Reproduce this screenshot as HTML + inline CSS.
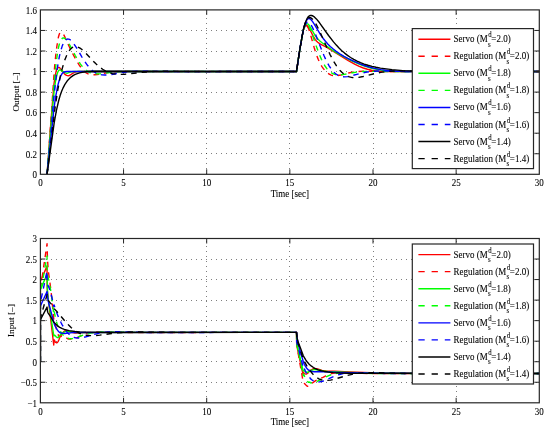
<!DOCTYPE html><html><head><meta charset="utf-8"><style>html,body{margin:0;padding:0;background:#fff;}svg{display:block;}text{font-family:"Liberation Serif",serif;fill:#000;stroke:#000;stroke-width:0.08px;}</style></head><body>
<svg width="550" height="433" viewBox="0 0 550 433">
<g>
<rect width="550" height="433" fill="#fff"/>
<defs><clipPath id="c0"><rect x="40.40" y="9.90" width="498.90" height="164.40"/></clipPath></defs>
<path d="M123.50 174.00V9.90M206.50 174.00V9.90M289.50 174.00V9.90M373.50 174.00V9.90M456.50 174.00V9.90M41.00 153.50H539.30M41.00 133.50H539.30M41.00 112.50H539.30M41.00 92.50H539.30M41.00 71.50H539.30M41.00 51.50H539.30M41.00 30.50H539.30" stroke="#000" stroke-width="1" stroke-dasharray="1 4" fill="none" opacity="0.5"/>
<g clip-path="url(#c0)">
<polyline points="47.05,174.30 50.41,128.49 53.80,85.38 54.97,77.02 56.20,70.85 56.63,69.47 57.10,68.55 57.70,67.92 58.56,67.41 59.16,67.48 59.76,67.92 63.91,73.15 65.34,74.65 66.58,75.42 68.21,75.73 69.04,75.61 69.90,75.25 73.03,73.11 74.69,72.26 76.42,71.74 78.38,71.55 296.50,71.56 299.76,49.86 303.19,30.58 303.92,28.49 304.82,26.78 305.68,25.82 306.58,25.50 307.11,25.62 307.64,25.97 308.71,27.29 313.07,35.93 315.13,39.41 316.42,40.99 317.76,42.26 318.92,43.17 320.42,44.07 327.30,47.59 348.35,60.57 355.11,64.38 359.26,66.36 363.35,67.99 367.45,69.28 371.64,70.27 374.83,70.81 378.16,71.20 385.44,71.55 539.30,71.55" fill="none" stroke="#ff0000" stroke-width="1.4" stroke-linejoin="round"/>
<polyline points="47.05,174.30 50.34,129.49 53.94,74.98 54.90,63.34 56.33,50.13 57.76,40.39 58.46,36.95 59.16,34.44 59.82,32.94 60.16,32.54 60.49,32.36 61.39,32.48 62.25,32.93 63.02,33.70 63.82,34.90 64.85,36.92 67.11,42.11 70.27,48.85 72.36,53.07 76.95,61.42 79.08,64.84 80.94,67.53 83.60,70.62 84.94,71.84 86.27,72.82 87.63,73.59 89.06,74.18 90.52,74.57 92.09,74.79 94.48,74.82 97.21,74.55 107.68,72.57 112.54,71.86 117.13,71.45 122.15,71.26 153.12,71.58 296.50,71.55 299.76,49.86 303.22,30.41 303.75,28.39 304.42,26.89 305.18,25.93 306.01,25.59 306.75,25.84 307.48,26.58 308.21,27.81 308.94,29.53 309.77,32.06 314.23,47.76 316.03,53.60 318.19,59.28 320.48,64.15 321.78,66.37 323.21,68.43 324.81,70.41 326.34,71.98 327.97,73.31 329.66,74.39 331.23,75.09 332.92,75.56 335.18,75.79 337.68,75.61 340.70,75.01 348.62,72.94 352.55,72.15 357.80,71.47 363.62,71.17 394.39,71.58 539.30,71.55" fill="none" stroke="#ff0000" stroke-width="1.4" stroke-dasharray="5.5 5" stroke-linejoin="round"/>
<polyline points="47.05,174.30 51.04,125.53 54.14,90.57 55.43,81.80 56.86,75.06 57.56,72.74 58.19,71.22 58.83,70.34 59.59,69.94 60.26,69.98 62.02,70.82 65.31,72.87 66.64,73.19 67.97,72.95 71.46,71.79 73.56,71.55 296.50,71.55 299.83,49.45 303.29,30.10 304.02,27.68 305.05,25.51 306.08,24.26 306.61,23.94 307.15,23.83 307.64,23.92 308.14,24.18 309.17,25.26 315.19,35.54 316.56,37.44 318.59,39.72 320.18,41.22 322.08,42.74 333.59,50.98 337.98,53.68 344.16,56.98 351.15,60.53 356.84,63.15 361.56,65.06 366.18,66.67 370.84,68.02 375.56,69.12 381.25,70.11 387.27,70.83 393.82,71.29 401.24,71.52 539.30,71.55" fill="none" stroke="#00ff00" stroke-width="1.4" stroke-linejoin="round"/>
<polyline points="47.05,174.30 50.31,133.23 53.77,85.87 55.87,65.25 57.53,52.95 58.36,48.27 59.16,44.77 59.96,42.27 61.22,39.70 62.15,38.47 63.12,37.93 64.01,37.99 64.98,38.54 66.11,39.64 67.54,41.40 69.90,45.36 75.26,55.51 77.85,60.11 80.45,64.12 83.11,67.47 85.90,70.14 87.36,71.20 88.83,72.05 90.36,72.74 91.95,73.26 93.62,73.61 95.41,73.82 97.87,73.87 100.77,73.69 111.48,72.33 116.70,71.82 121.55,71.54 127.01,71.40 160.10,71.56 296.50,71.55 299.76,49.86 303.19,30.57 304.02,28.08 304.98,26.10 305.91,24.97 306.38,24.69 306.85,24.60 307.71,24.92 308.58,25.88 309.34,27.24 310.57,30.05 312.23,34.34 316.03,45.51 318.99,53.58 321.45,59.37 323.97,64.30 325.34,66.51 326.70,68.42 328.10,70.08 329.50,71.45 330.96,72.59 332.49,73.51 334.09,74.19 335.75,74.64 338.28,74.93 341.20,74.81 344.06,74.41 352.45,72.81 357.20,72.08 362.72,71.56 368.91,71.33 401.77,71.56 539.30,71.55" fill="none" stroke="#00ff00" stroke-width="1.4" stroke-dasharray="5.5 5" stroke-linejoin="round"/>
<polyline points="47.05,174.30 53.77,110.71 54.64,103.69 55.67,96.73 57.56,86.69 58.46,83.04 59.66,78.98 60.56,76.49 61.52,74.51 62.48,73.15 63.55,72.26 64.98,71.73 66.97,71.55 296.50,71.55 299.99,48.44 301.92,37.30 303.59,28.69 304.68,24.68 305.95,21.50 306.58,20.38 307.24,19.50 307.91,18.92 308.61,18.62 309.41,18.65 310.24,19.08 311.27,20.01 312.43,21.42 314.23,24.12 320.65,34.81 323.01,38.21 325.44,41.30 327.77,43.92 330.26,46.41 332.95,48.82 335.85,51.13 339.81,53.92 343.96,56.45 347.72,58.43 354.11,61.43 359.33,63.64 364.32,65.49 369.24,67.04 374.23,68.32 380.85,69.61 387.93,70.54 395.72,71.15 404.73,71.47 539.30,71.55" fill="none" stroke="#0000ff" stroke-width="1.4" stroke-linejoin="round"/>
<polyline points="47.05,174.30 50.28,139.30 53.84,97.67 55.73,80.47 57.53,67.02 58.56,60.69 59.59,55.47 61.02,49.87 62.12,46.35 63.32,43.42 64.58,41.26 65.91,39.83 66.68,39.34 67.41,39.05 68.70,39.09 70.10,39.73 71.60,40.96 73.16,42.75 76.09,47.08 81.97,57.08 84.64,61.33 87.46,65.29 90.16,68.43 92.92,70.96 95.71,72.83 98.64,74.12 101.80,74.86 104.76,75.07 108.12,74.90 111.51,74.44 120.92,72.75 126.08,72.00 132.00,71.45 138.42,71.20 174.67,71.59 296.50,71.55 299.76,49.86 303.22,30.42 304.38,26.76 305.62,24.08 306.21,23.19 306.81,22.57 307.41,22.20 308.04,22.10 308.58,22.24 309.14,22.61 310.47,24.15 311.64,25.90 312.93,28.36 315.63,34.60 321.18,48.85 323.84,55.32 326.60,61.26 329.26,66.10 332.12,70.21 333.59,71.88 335.05,73.28 336.55,74.44 338.11,75.37 339.71,76.06 341.37,76.54 344.33,76.85 347.69,76.59 351.08,75.91 360.53,73.36 365.68,72.22 371.60,71.39 378.02,71.02 384.57,71.00 402.34,71.47 414.31,71.61 539.30,71.55" fill="none" stroke="#0000ff" stroke-width="1.4" stroke-dasharray="5.5 5" stroke-linejoin="round"/>
<polyline points="47.05,174.30 54.17,122.87 56.43,110.38 58.76,100.27 60.12,95.59 61.65,91.30 63.25,87.56 64.91,84.40 66.78,81.57 68.77,79.16 70.97,77.11 73.36,75.43 75.26,74.42 77.35,73.55 79.61,72.84 82.07,72.28 87.86,71.53 95.51,71.20 161.50,71.51 296.50,71.55 298.30,59.16 300.13,47.64 302.19,35.85 303.72,28.17 305.25,22.90 306.88,18.96 307.71,17.55 308.54,16.51 309.37,15.85 310.24,15.52 311.60,15.49 313.03,16.02 314.60,17.14 316.36,18.88 319.55,22.81 328.56,35.47 333.52,41.88 336.28,45.09 339.01,47.99 341.77,50.66 344.56,53.09 347.52,55.39 350.58,57.48 353.78,59.40 357.07,61.12 360.53,62.67 364.15,64.05 367.98,65.29 372.00,66.37 376.06,67.28 380.42,68.07 391.99,69.67 402.93,70.64 415.21,71.23 425.48,71.45 438.72,71.54 539.30,71.55" fill="none" stroke="#000000" stroke-width="1.4" stroke-linejoin="round"/>
<polyline points="47.05,174.30 50.05,150.42 55.03,108.03 57.60,90.87 60.09,77.45 61.72,70.48 63.42,64.30 65.08,59.27 66.81,55.06 68.60,51.66 70.43,49.15 71.40,48.19 72.36,47.46 73.36,46.94 74.36,46.63 75.99,46.54 77.75,46.95 79.61,47.87 81.64,49.30 85.30,52.68 92.65,60.54 95.94,63.84 99.37,66.87 102.63,69.27 105.82,71.14 109.08,72.57 112.47,73.58 116.07,74.19 119.99,74.42 124.45,74.28 128.81,73.89 140.18,72.53 146.27,71.93 153.22,71.48 160.67,71.25 169.48,71.24 204.57,71.58 296.50,71.55 298.30,59.16 300.16,47.44 302.22,35.67 303.75,27.99 305.08,23.53 306.58,20.18 307.34,19.01 308.14,18.16 308.91,17.69 309.71,17.56 310.40,17.72 311.24,18.13 312.87,19.53 314.56,21.71 316.42,24.80 319.92,31.81 327.00,47.94 330.09,54.59 333.39,60.89 336.51,65.94 338.18,68.24 339.84,70.25 341.54,72.02 343.23,73.52 344.96,74.78 346.76,75.81 348.59,76.60 350.52,77.18 352.41,77.52 354.41,77.67 356.54,77.62 358.83,77.38 363.19,76.55 374.60,73.64 380.75,72.34 387.73,71.38 395.25,70.91 403.93,70.88 425.45,71.45 439.22,71.62 539.30,71.55" fill="none" stroke="#000000" stroke-width="1.4" stroke-dasharray="5.5 5" stroke-linejoin="round"/>
</g>
<path d="M123.55 174.30v-5M123.55 9.90v5M206.70 174.30v-5M206.70 9.90v5M289.85 174.30v-5M289.85 9.90v5M373.00 174.30v-5M373.00 9.90v5M456.15 174.30v-5M456.15 9.90v5M40.40 153.75h5M539.30 153.75h-5M40.40 133.20h5M539.30 133.20h-5M40.40 112.65h5M539.30 112.65h-5M40.40 92.10h5M539.30 92.10h-5M40.40 71.55h5M539.30 71.55h-5M40.40 51.00h5M539.30 51.00h-5M40.40 30.45h5M539.30 30.45h-5" stroke="#262626" stroke-width="1" fill="none"/>
<rect x="40.40" y="9.90" width="498.90" height="164.40" fill="none" stroke="#262626" stroke-width="1.2"/>
<text transform="translate(40.40 186.20) scale(1 1.08)" font-size="9" text-anchor="middle">0</text>
<text transform="translate(123.55 186.20) scale(1 1.08)" font-size="9" text-anchor="middle">5</text>
<text transform="translate(206.70 186.20) scale(1 1.08)" font-size="9" text-anchor="middle">10</text>
<text transform="translate(289.85 186.20) scale(1 1.08)" font-size="9" text-anchor="middle">15</text>
<text transform="translate(373.00 186.20) scale(1 1.08)" font-size="9" text-anchor="middle">20</text>
<text transform="translate(456.15 186.20) scale(1 1.08)" font-size="9" text-anchor="middle">25</text>
<text transform="translate(539.30 186.20) scale(1 1.08)" font-size="9" text-anchor="middle">30</text>
<text transform="translate(37.10 178.10) scale(1 1.08)" font-size="9" text-anchor="end">0</text>
<text transform="translate(37.10 157.55) scale(1 1.08)" font-size="9" text-anchor="end">0.2</text>
<text transform="translate(37.10 137.00) scale(1 1.08)" font-size="9" text-anchor="end">0.4</text>
<text transform="translate(37.10 116.45) scale(1 1.08)" font-size="9" text-anchor="end">0.6</text>
<text transform="translate(37.10 95.90) scale(1 1.08)" font-size="9" text-anchor="end">0.8</text>
<text transform="translate(37.10 75.35) scale(1 1.08)" font-size="9" text-anchor="end">1</text>
<text transform="translate(37.10 54.80) scale(1 1.08)" font-size="9" text-anchor="end">1.2</text>
<text transform="translate(37.10 34.25) scale(1 1.08)" font-size="9" text-anchor="end">1.4</text>
<text transform="translate(37.10 13.70) scale(1 1.08)" font-size="9" text-anchor="end">1.6</text>
<text transform="translate(289.85 196.80) scale(1 1.08)" font-size="9" text-anchor="middle">Time [sec]</text>
<text transform="translate(19.20 92.10) rotate(-90) scale(1.035 1)" font-size="9" text-anchor="middle">Output [&#8211;]</text>
<rect x="412.30" y="28.60" width="121.20" height="140.00" fill="#fff" stroke="#262626" stroke-width="1.2"/>
<line x1="418.4" y1="39.20" x2="450.4" y2="39.20" stroke="#ff0000" stroke-width="1.4"/>
<text transform="translate(453.6 42.20) scale(1 1.08)" font-size="9">Servo (M<tspan dx="0.4" dy="-4.6" font-size="6.8">d</tspan><tspan dx="-3.5" dy="8.6" font-size="6.8">s</tspan><tspan dx="0.6" dy="-4">=2.0)</tspan></text>
<line x1="418.4" y1="56.26" x2="450.4" y2="56.26" stroke="#ff0000" stroke-width="1.4" stroke-dasharray="6.3 6.9"/>
<text transform="translate(453.6 59.26) scale(1 1.08)" font-size="9">Regulation (M<tspan dx="0.4" dy="-4.6" font-size="6.8">d</tspan><tspan dx="-3.5" dy="8.6" font-size="6.8">s</tspan><tspan dx="0.6" dy="-4">=2.0)</tspan></text>
<line x1="418.4" y1="73.32" x2="450.4" y2="73.32" stroke="#00ff00" stroke-width="1.4"/>
<text transform="translate(453.6 76.32) scale(1 1.08)" font-size="9">Servo (M<tspan dx="0.4" dy="-4.6" font-size="6.8">d</tspan><tspan dx="-3.5" dy="8.6" font-size="6.8">s</tspan><tspan dx="0.6" dy="-4">=1.8)</tspan></text>
<line x1="418.4" y1="90.38" x2="450.4" y2="90.38" stroke="#00ff00" stroke-width="1.4" stroke-dasharray="6.3 6.9"/>
<text transform="translate(453.6 93.38) scale(1 1.08)" font-size="9">Regulation (M<tspan dx="0.4" dy="-4.6" font-size="6.8">d</tspan><tspan dx="-3.5" dy="8.6" font-size="6.8">s</tspan><tspan dx="0.6" dy="-4">=1.8)</tspan></text>
<line x1="418.4" y1="107.44" x2="450.4" y2="107.44" stroke="#0000ff" stroke-width="1.4"/>
<text transform="translate(453.6 110.44) scale(1 1.08)" font-size="9">Servo (M<tspan dx="0.4" dy="-4.6" font-size="6.8">d</tspan><tspan dx="-3.5" dy="8.6" font-size="6.8">s</tspan><tspan dx="0.6" dy="-4">=1.6)</tspan></text>
<line x1="418.4" y1="124.50" x2="450.4" y2="124.50" stroke="#0000ff" stroke-width="1.4" stroke-dasharray="6.3 6.9"/>
<text transform="translate(453.6 127.50) scale(1 1.08)" font-size="9">Regulation (M<tspan dx="0.4" dy="-4.6" font-size="6.8">d</tspan><tspan dx="-3.5" dy="8.6" font-size="6.8">s</tspan><tspan dx="0.6" dy="-4">=1.6)</tspan></text>
<line x1="418.4" y1="141.56" x2="450.4" y2="141.56" stroke="#000000" stroke-width="1.4"/>
<text transform="translate(453.6 144.56) scale(1 1.08)" font-size="9">Servo (M<tspan dx="0.4" dy="-4.6" font-size="6.8">d</tspan><tspan dx="-3.5" dy="8.6" font-size="6.8">s</tspan><tspan dx="0.6" dy="-4">=1.4)</tspan></text>
<line x1="418.4" y1="158.62" x2="450.4" y2="158.62" stroke="#000000" stroke-width="1.4" stroke-dasharray="6.3 6.9"/>
<text transform="translate(453.6 161.62) scale(1 1.08)" font-size="9">Regulation (M<tspan dx="0.4" dy="-4.6" font-size="6.8">d</tspan><tspan dx="-3.5" dy="8.6" font-size="6.8">s</tspan><tspan dx="0.6" dy="-4">=1.4)</tspan></text>
<defs><clipPath id="c1"><rect x="40.40" y="238.50" width="498.90" height="164.30"/></clipPath></defs>
<path d="M123.50 402.00V238.50M206.50 402.00V238.50M289.50 402.00V238.50M373.50 402.00V238.50M456.50 402.00V238.50M41.00 382.50H539.30M41.00 361.50H539.30M41.00 341.50H539.30M41.00 320.50H539.30M41.00 300.50H539.30M41.00 279.50H539.30M41.00 259.50H539.30" stroke="#000" stroke-width="1" stroke-dasharray="1 4" fill="none" opacity="0.5"/>
<g clip-path="url(#c1)">
<polyline points="40.40,361.73 40.40,281.24 47.05,266.15 47.15,284.63 47.35,291.37 53.74,344.96 54.04,339.83 54.20,339.92 55.10,341.68 55.77,342.47 56.53,342.79 57.30,342.49 58.06,341.58 58.86,339.97 59.62,337.80 60.42,334.89 60.69,335.74 60.85,335.76 62.55,333.14 63.65,331.74 64.71,330.81 65.71,330.47 66.44,330.60 67.14,331.07 67.57,330.72 68.47,330.90 72.70,332.60 73.86,332.72 74.99,333.04 76.65,333.16 83.84,332.65 87.40,332.52 296.50,332.39 296.60,341.92 296.83,345.75 299.73,359.57 303.19,375.19 303.49,372.57 304.52,373.50 305.15,373.90 305.88,374.08 306.65,373.95 307.44,373.50 308.24,372.71 309.04,371.61 309.87,370.12 310.14,370.58 310.30,370.60 312.83,368.97 313.83,368.60 314.76,368.47 315.69,368.59 316.59,368.99 316.99,368.86 317.66,369.00 322.08,370.37 326.10,370.98 334.42,371.23 349.65,372.00 370.71,372.63 395.62,373.03 427.51,373.28 539.30,373.45" fill="none" stroke="#ff0000" stroke-width="1.4" stroke-linejoin="round"/>
<polyline points="40.40,361.73 40.40,289.08 47.05,243.77 47.48,258.60 48.08,268.26 48.58,272.84 50.24,284.91 51.34,294.04 53.94,320.87 54.20,321.93 55.30,324.71 57.50,332.90 58.59,335.68 59.13,336.45 59.66,336.81 60.12,336.74 60.76,336.22 61.09,336.23 62.45,337.52 63.28,337.94 66.31,338.02 66.94,338.25 67.97,338.90 68.60,339.07 72.43,339.18 73.49,339.10 77.29,337.64 81.74,335.35 84.70,334.05 86.76,333.33 89.53,332.62 91.89,332.21 95.11,331.86 98.47,331.70 104.09,331.74 119.19,332.33 128.61,332.45 296.50,332.39 297.00,343.27 297.73,350.83 303.22,382.28 303.59,383.18 304.68,383.71 306.71,385.88 307.71,386.31 308.34,386.21 308.94,385.83 310.54,383.83 312.40,382.99 315.63,380.58 317.79,379.80 319.78,378.74 322.91,377.40 325.80,375.92 329.56,374.30 331.72,373.60 334.88,372.91 338.28,372.59 343.86,372.58 359.33,373.34 369.97,373.54 539.30,373.46" fill="none" stroke="#ff0000" stroke-width="1.4" stroke-dasharray="5.5 5" stroke-linejoin="round"/>
<polyline points="40.40,361.73 40.40,289.68 47.05,274.34 47.38,288.69 47.95,297.13 53.74,335.54 53.90,335.90 54.37,335.18 54.74,335.11 56.36,337.00 57.36,337.56 58.16,337.48 58.96,336.91 59.66,336.02 60.79,334.09 61.92,333.68 64.75,331.74 65.58,331.41 66.34,331.29 67.67,331.52 69.57,331.59 73.46,332.38 77.68,332.66 89.16,332.43 296.50,332.39 296.87,341.46 297.43,346.50 298.86,353.05 303.19,370.91 303.35,371.12 303.82,370.75 304.19,370.74 305.75,371.89 306.78,372.29 307.58,372.28 308.38,372.00 310.24,370.51 311.37,370.38 313.90,369.64 315.23,369.50 318.79,370.04 322.88,370.89 327.57,371.40 349.02,372.35 370.61,372.90 393.69,373.19 423.99,373.35 539.30,373.46" fill="none" stroke="#00ff00" stroke-width="1.4" stroke-linejoin="round"/>
<polyline points="40.40,361.73 40.40,293.29 47.05,255.84 47.15,269.62 47.32,274.09 49.11,281.73 50.61,289.99 52.17,300.81 53.74,313.91 53.90,311.55 53.97,311.23 54.07,311.30 55.67,318.43 56.80,322.86 57.93,326.45 58.99,328.88 59.72,329.94 60.42,330.42 60.89,332.25 62.42,334.40 63.91,335.83 67.17,338.20 67.57,338.12 69.10,338.47 70.53,338.63 72.76,338.51 76.02,337.69 84.20,334.74 89.09,333.35 91.89,332.79 94.68,332.39 100.97,331.97 106.39,331.95 122.25,332.31 133.89,332.41 296.50,332.39 296.60,340.96 296.80,344.30 300.06,359.51 303.19,375.45 303.35,374.02 303.42,373.83 303.52,373.86 305.58,378.79 306.51,380.39 307.44,381.52 308.08,382.01 308.68,382.25 309.27,382.27 309.87,382.07 310.24,382.76 310.97,382.93 312.73,382.79 316.59,381.74 317.12,381.35 326.10,376.80 328.73,375.63 331.39,374.67 333.95,373.96 336.75,373.40 339.44,373.07 342.37,372.87 347.96,372.83 363.99,373.36 375.66,373.50 539.30,373.46" fill="none" stroke="#00ff00" stroke-width="1.4" stroke-dasharray="5.5 5" stroke-linejoin="round"/>
<polyline points="40.40,361.73 40.40,305.96 47.05,291.43 47.65,297.44 48.52,302.36 54.24,323.92 55.07,325.86 56.27,328.18 57.33,329.94 58.33,331.26 59.19,332.13 60.06,332.71 62.42,333.39 64.61,333.49 72.53,332.66 79.68,332.44 296.50,332.39 297.20,338.38 298.20,343.49 300.36,351.61 303.62,362.74 304.45,364.52 305.62,366.57 306.71,368.18 307.74,369.39 308.68,370.21 309.57,370.75 312.23,371.50 314.36,371.68 323.34,371.66 337.84,372.38 349.32,372.76 378.92,373.23 426.88,373.42 539.30,373.46" fill="none" stroke="#0000ff" stroke-width="1.4" stroke-linejoin="round"/>
<polyline points="40.40,361.73 40.40,302.56 47.05,271.18 47.15,280.85 47.32,284.01 49.11,287.86 50.61,292.35 52.17,298.58 53.74,306.40 53.90,305.07 54.00,304.87 54.10,304.99 56.70,312.71 58.56,317.42 59.52,319.38 60.42,320.83 60.85,322.22 62.05,324.58 63.58,327.22 65.28,329.81 67.17,332.43 70.23,335.29 72.70,336.83 74.33,337.47 75.56,337.80 78.38,338.07 81.64,337.79 85.03,337.05 94.48,334.31 99.67,333.10 105.66,332.21 112.21,331.81 118.53,331.80 136.39,332.31 148.63,332.45 296.50,332.39 296.60,339.40 296.80,342.23 300.09,354.59 303.19,367.38 303.35,366.54 303.42,366.45 303.52,366.54 305.35,371.03 306.88,374.10 308.18,376.08 309.04,377.06 309.87,377.72 310.40,378.64 311.70,379.78 313.13,380.70 314.70,381.40 316.62,381.99 319.62,381.90 322.54,381.23 325.70,380.05 334.75,376.09 337.61,375.04 340.37,374.21 343.03,373.58 345.79,373.11 351.68,372.59 358.07,372.58 375.99,373.34 388.27,373.55 424.49,373.45 539.30,373.46" fill="none" stroke="#0000ff" stroke-width="1.4" stroke-dasharray="5.5 5" stroke-linejoin="round"/>
<polyline points="40.40,361.73 40.40,319.78 47.05,307.06 47.48,311.04 47.78,312.23 48.18,313.14 51.24,317.73 53.84,322.32 57.26,325.56 58.56,326.59 59.82,327.38 62.32,328.60 64.31,329.36 69.07,330.60 75.06,331.47 79.91,331.85 85.87,332.11 103.93,332.35 296.50,332.39 296.83,336.30 297.33,339.12 298.10,341.63 300.26,347.56 303.32,355.81 305.91,360.06 307.51,362.32 309.17,364.17 311.50,366.19 313.46,367.54 315.73,368.76 318.19,369.80 321.11,370.73 324.21,371.44 327.77,372.02 333.25,372.59 340.04,372.97 348.82,373.21 361.06,373.35 539.30,373.46" fill="none" stroke="#000000" stroke-width="1.4" stroke-linejoin="round"/>
<polyline points="40.40,361.73 40.40,318.17 47.05,294.68 47.72,298.75 48.15,300.08 48.71,301.12 51.68,304.45 54.17,308.73 56.36,310.91 64.91,320.97 68.87,325.32 71.07,327.45 73.26,329.32 75.32,330.84 77.48,332.18 79.68,333.29 81.91,334.17 84.24,334.85 86.63,335.32 90.72,335.67 95.41,335.54 99.87,335.09 111.51,333.50 117.76,332.79 124.88,332.28 132.60,332.04 140.88,332.03 176.53,332.42 296.50,332.39 297.37,339.49 297.97,342.36 298.76,345.24 303.39,359.39 304.09,360.89 306.68,365.61 308.28,368.29 309.71,370.32 312.57,373.78 314.73,375.93 316.92,377.64 318.92,378.84 321.11,379.73 323.41,380.28 326.74,380.48 330.46,380.08 334.48,379.18 345.86,375.84 352.05,374.35 355.57,373.72 359.13,373.25 366.78,372.72 375.20,372.69 396.95,373.35 411.22,373.54 539.30,373.46" fill="none" stroke="#000000" stroke-width="1.4" stroke-dasharray="5.5 5" stroke-linejoin="round"/>
</g>
<path d="M123.55 402.80v-5M123.55 238.50v5M206.70 402.80v-5M206.70 238.50v5M289.85 402.80v-5M289.85 238.50v5M373.00 402.80v-5M373.00 238.50v5M456.15 402.80v-5M456.15 238.50v5M40.40 382.26h5M539.30 382.26h-5M40.40 361.73h5M539.30 361.73h-5M40.40 341.19h5M539.30 341.19h-5M40.40 320.65h5M539.30 320.65h-5M40.40 300.11h5M539.30 300.11h-5M40.40 279.57h5M539.30 279.57h-5M40.40 259.04h5M539.30 259.04h-5" stroke="#262626" stroke-width="1" fill="none"/>
<rect x="40.40" y="238.50" width="498.90" height="164.30" fill="none" stroke="#262626" stroke-width="1.2"/>
<text transform="translate(40.40 414.70) scale(1 1.08)" font-size="9" text-anchor="middle">0</text>
<text transform="translate(123.55 414.70) scale(1 1.08)" font-size="9" text-anchor="middle">5</text>
<text transform="translate(206.70 414.70) scale(1 1.08)" font-size="9" text-anchor="middle">10</text>
<text transform="translate(289.85 414.70) scale(1 1.08)" font-size="9" text-anchor="middle">15</text>
<text transform="translate(373.00 414.70) scale(1 1.08)" font-size="9" text-anchor="middle">20</text>
<text transform="translate(456.15 414.70) scale(1 1.08)" font-size="9" text-anchor="middle">25</text>
<text transform="translate(539.30 414.70) scale(1 1.08)" font-size="9" text-anchor="middle">30</text>
<text transform="translate(37.10 406.60) scale(1 1.08)" font-size="9" text-anchor="end">&#8722;1</text>
<text transform="translate(37.10 386.06) scale(1 1.08)" font-size="9" text-anchor="end">&#8722;0.5</text>
<text transform="translate(37.10 365.53) scale(1 1.08)" font-size="9" text-anchor="end">0</text>
<text transform="translate(37.10 344.99) scale(1 1.08)" font-size="9" text-anchor="end">0.5</text>
<text transform="translate(37.10 324.45) scale(1 1.08)" font-size="9" text-anchor="end">1</text>
<text transform="translate(37.10 303.91) scale(1 1.08)" font-size="9" text-anchor="end">1.5</text>
<text transform="translate(37.10 283.38) scale(1 1.08)" font-size="9" text-anchor="end">2</text>
<text transform="translate(37.10 262.84) scale(1 1.08)" font-size="9" text-anchor="end">2.5</text>
<text transform="translate(37.10 242.30) scale(1 1.08)" font-size="9" text-anchor="end">3</text>
<text transform="translate(289.85 425.30) scale(1 1.08)" font-size="9" text-anchor="middle">Time [sec]</text>
<text transform="translate(13.60 320.65) rotate(-90) scale(1.035 1)" font-size="9" text-anchor="middle">Input [&#8211;]</text>
<rect x="412.30" y="244.00" width="121.20" height="140.00" fill="#fff" stroke="#262626" stroke-width="1.2"/>
<line x1="418.4" y1="254.60" x2="450.4" y2="254.60" stroke="#ff0000" stroke-width="1.4"/>
<text transform="translate(453.6 257.60) scale(1 1.08)" font-size="9">Servo (M<tspan dx="0.4" dy="-4.6" font-size="6.8">d</tspan><tspan dx="-3.5" dy="8.6" font-size="6.8">s</tspan><tspan dx="0.6" dy="-4">=2.0)</tspan></text>
<line x1="418.4" y1="271.66" x2="450.4" y2="271.66" stroke="#ff0000" stroke-width="1.4" stroke-dasharray="6.3 6.9"/>
<text transform="translate(453.6 274.66) scale(1 1.08)" font-size="9">Regulation (M<tspan dx="0.4" dy="-4.6" font-size="6.8">d</tspan><tspan dx="-3.5" dy="8.6" font-size="6.8">s</tspan><tspan dx="0.6" dy="-4">=2.0)</tspan></text>
<line x1="418.4" y1="288.72" x2="450.4" y2="288.72" stroke="#00ff00" stroke-width="1.4"/>
<text transform="translate(453.6 291.72) scale(1 1.08)" font-size="9">Servo (M<tspan dx="0.4" dy="-4.6" font-size="6.8">d</tspan><tspan dx="-3.5" dy="8.6" font-size="6.8">s</tspan><tspan dx="0.6" dy="-4">=1.8)</tspan></text>
<line x1="418.4" y1="305.78" x2="450.4" y2="305.78" stroke="#00ff00" stroke-width="1.4" stroke-dasharray="6.3 6.9"/>
<text transform="translate(453.6 308.78) scale(1 1.08)" font-size="9">Regulation (M<tspan dx="0.4" dy="-4.6" font-size="6.8">d</tspan><tspan dx="-3.5" dy="8.6" font-size="6.8">s</tspan><tspan dx="0.6" dy="-4">=1.8)</tspan></text>
<line x1="418.4" y1="322.84" x2="450.4" y2="322.84" stroke="#0000ff" stroke-width="1.4"/>
<text transform="translate(453.6 325.84) scale(1 1.08)" font-size="9">Servo (M<tspan dx="0.4" dy="-4.6" font-size="6.8">d</tspan><tspan dx="-3.5" dy="8.6" font-size="6.8">s</tspan><tspan dx="0.6" dy="-4">=1.6)</tspan></text>
<line x1="418.4" y1="339.90" x2="450.4" y2="339.90" stroke="#0000ff" stroke-width="1.4" stroke-dasharray="6.3 6.9"/>
<text transform="translate(453.6 342.90) scale(1 1.08)" font-size="9">Regulation (M<tspan dx="0.4" dy="-4.6" font-size="6.8">d</tspan><tspan dx="-3.5" dy="8.6" font-size="6.8">s</tspan><tspan dx="0.6" dy="-4">=1.6)</tspan></text>
<line x1="418.4" y1="356.96" x2="450.4" y2="356.96" stroke="#000000" stroke-width="1.4"/>
<text transform="translate(453.6 359.96) scale(1 1.08)" font-size="9">Servo (M<tspan dx="0.4" dy="-4.6" font-size="6.8">d</tspan><tspan dx="-3.5" dy="8.6" font-size="6.8">s</tspan><tspan dx="0.6" dy="-4">=1.4)</tspan></text>
<line x1="418.4" y1="374.02" x2="450.4" y2="374.02" stroke="#000000" stroke-width="1.4" stroke-dasharray="6.3 6.9"/>
<text transform="translate(453.6 377.02) scale(1 1.08)" font-size="9">Regulation (M<tspan dx="0.4" dy="-4.6" font-size="6.8">d</tspan><tspan dx="-3.5" dy="8.6" font-size="6.8">s</tspan><tspan dx="0.6" dy="-4">=1.4)</tspan></text>
</g></svg></body></html>
